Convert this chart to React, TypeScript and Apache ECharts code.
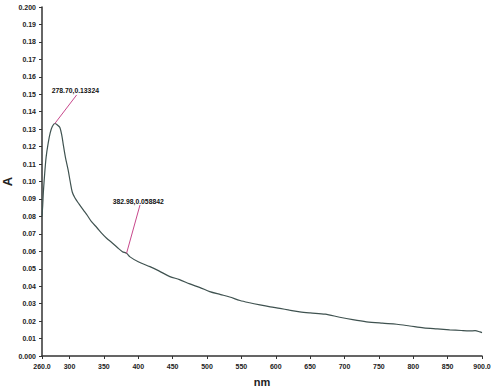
import React, { useEffect, useRef } from "react";
import * as echarts from "echarts";

const wavelengths = [
  260, 261, 262, 264, 266, 269, 272, 275, 278.7, 282, 286, 289, 291, 294, 298, 301, 304, 308, 314, 320,
  326, 332, 340, 347, 354, 361, 370, 377, 382.98, 388, 400, 417, 430, 446, 460, 475, 490, 504, 520, 533,
  548, 562, 577, 592, 606, 620, 635, 650, 672, 693, 712, 732, 755, 776, 795, 815, 835, 853, 870, 882,
  890, 897, 900,
];
const absorbance = [
  0.08, 0.086, 0.094, 0.105, 0.114, 0.122, 0.128, 0.1315, 0.13324, 0.1325, 0.131, 0.126, 0.121, 0.114,
  0.1066, 0.1, 0.094, 0.0905, 0.087, 0.0837, 0.0805, 0.077, 0.0735, 0.0703, 0.0675, 0.0652, 0.062,
  0.0598, 0.058842, 0.0568, 0.054, 0.0512, 0.0488, 0.0455, 0.0438, 0.0413, 0.0392, 0.0369, 0.0352,
  0.0338, 0.0318, 0.0305, 0.0293, 0.0282, 0.0273, 0.0263, 0.0253, 0.0247, 0.0240, 0.0222, 0.0208,
  0.0196, 0.0188, 0.0182, 0.0172, 0.0161, 0.0155, 0.015, 0.0146, 0.0144, 0.0145, 0.0138, 0.0134,
];
const xTicks = [260, 300, 350, 400, 450, 500, 550, 600, 650, 700, 750, 800, 850, 900];
const peaks = [
  { x: 278.7, y: 0.13324, text: "278.70,0.13324", lx: 310.4, ly: 0.1496, tx: 308.5, ty: 0.152 },
  { x: 382.98, y: 0.058842, text: "382.98,0.058842", lx: 402.5, ly: 0.0865, tx: 400, ty: 0.0888 },
];

const FONT = "'Liberation Sans', Arial, sans-serif";

export default function App() {
  const ref = useRef<HTMLDivElement>(null);
  useEffect(() => {
    if (!ref.current) return;
    const chart = echarts.init(ref.current, undefined, { renderer: "svg" });
    const data = wavelengths.map((w, i) => [w, absorbance[i]]);
    chart.setOption({
      animation: false,
      backgroundColor: "#ffffff",
      grid: { left: 42, right: 9, top: 7, bottom: 33, containLabel: false, outerBoundsMode: "none" },
      xAxis: {
        type: "value",
        min: 260,
        max: 900,
        name: "nm",
        nameLocation: "middle",
        nameGap: 20,
        nameMoveOverlap: false,
        nameTextStyle: { fontFamily: FONT, fontWeight: "bold", fontSize: 11, color: "#222" },
        axisLine: { lineStyle: { color: "#333", width: 1.5 } },
        axisTick: { show: true, length: 3, lineStyle: { color: "#333" }, customValues: xTicks },
        axisLabel: {
          customValues: xTicks,
          margin: 7,
          fontFamily: FONT,
          fontWeight: "bold",
          fontSize: 7,
          color: "#222",
          formatter: (v: number) => (v === 260 || v === 900 ? v.toFixed(1) : String(v)),
        },
        splitLine: { show: false },
      },
      yAxis: {
        type: "value",
        min: 0,
        max: 0.2,
        interval: 0.01,
        name: "A",
        nameLocation: "middle",
        nameGap: 28,
        nameRotate: 90,
        nameMoveOverlap: false,
        nameTextStyle: { fontFamily: FONT, fontWeight: "bold", fontSize: 13, color: "#222" },
        axisLine: { show: true, lineStyle: { color: "#333", width: 1.5 } },
        axisTick: { show: true, length: 3, lineStyle: { color: "#333" } },
        axisLabel: {
          margin: 6,
          fontFamily: FONT,
          fontWeight: "bold",
          fontSize: 7,
          color: "#222",
          formatter: (v: number) => {
            const r = Math.round(v * 100) / 100;
            return r === 0 || r === 0.2 ? r.toFixed(3) : r.toFixed(2);
          },
        },
        splitLine: { show: false },
      },
      series: [
        {
          type: "line",
          data,
          showSymbol: false,
          smooth: 0.3,
          lineStyle: { color: "#3f5250", width: 1.2 },
          markLine: {
            silent: true,
            symbol: "none",
            label: { show: false },
            lineStyle: { color: "#c8488c", width: 1, type: "solid" },
            data: peaks.map((p) => [{ coord: [p.x, p.y] }, { coord: [p.lx, p.ly] }]),
          },
          markPoint: {
            silent: true,
            symbol: "circle",
            symbolSize: 0,
            label: {
              show: true,
              position: "inside",
              fontFamily: FONT,
              fontSize: 6.8,
              fontWeight: "bold",
              color: "#111",
            },
            data: peaks.map((p) => ({
              coord: [p.tx, p.ty],
              value: p.text,
              label: { formatter: p.text },
            })),
          },
        },
      ],
    });
    return () => chart.dispose();
  }, []);
  return (
    <div
      ref={ref}
      style={{ position: "fixed", left: 0, top: 0, width: 491, height: 389, background: "#fff" }}
    />
  );
}
